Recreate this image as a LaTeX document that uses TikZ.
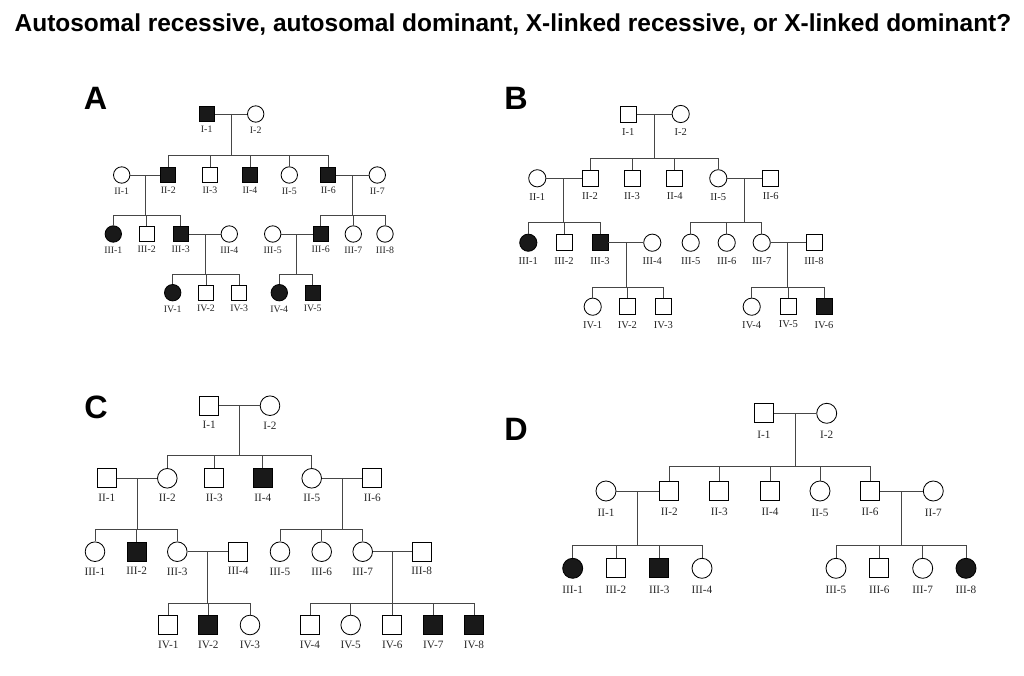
\documentclass[tikz,border=0pt]{standalone}
\usepackage{fontspec}
\setmainfont{Liberation Serif}
\setsansfont{Liberation Sans}
\usepackage{tikz}
\usetikzlibrary{calc}

\definecolor{pedgray}{RGB}{70,70,70}
\definecolor{affected}{RGB}{25,25,25}

% mating line, descent line and sibship: panel, father, mother, y of sibship, children
\newcommand{\offspring}[5]{%
  \draw[pedline] (#1-#2) -- (#1-#3);
  \coordinate (#1-#2-mid) at ($(#1-#2)!0.5!(#1-#3)$);
  \coordinate (#1-#2-sib) at (#1-#2-mid |- 0,#4);
  \draw[pedline] (#1-#2-mid) -- (#1-#2-sib);
  \foreach \ch in {#5} \draw[pedline] (#1-\ch.north) |- (#1-#2-sib);
}

\begin{document}
\begin{tikzpicture}[x=0.025cm, y=-0.025cm,
    sq/.store in=\sqsz, ci/.store in=\cisz,
    sym/.style={draw=black, line width=0.6pt, inner sep=0pt},
    male/.style={sym, rectangle, minimum size=\sqsz},
    female/.style={sym, circle, minimum size=\cisz},
    affm/.style={male, fill=affected},
    afff/.style={female, fill=affected},
    pedline/.style={draw=pedgray, line width=0.6pt},
    lab/.style={inner sep=1pt, text=black!85},
    tag/.style={font=\fontsize{23}{26}\sffamily\bfseries, anchor=base, inner sep=0pt}]
    \useasboundingbox (0,0) rectangle (1024,676);

    % Question
    \node[font=\fontsize{17.4}{20}\sffamily\bfseries, anchor=base, inner sep=0pt] (title) at (513,32)
        {Autosomal recessive, autosomal dominant, X-linked recessive, or X-linked dominant?};

    % Pedigree A
    \node[tag] (A-tag) at (95.5,110) {A};
    \begin{scope}[sq=0.37cm, ci=0.41cm, label distance=2pt, lab/.append style={font=\fontsize{7}{8}\selectfont}]
    \foreach \n/\x/\s in {I-1/206.7/affm, I-2/255.7/female}
        \node[\s, label={[lab]below:\n}] (A-\n) at (\x,114) {};
    \foreach \n/\x/\s in {II-1/121.7/female, II-2/168.3/affm, II-3/210/male, II-4/250/affm,
                          II-5/289.3/female, II-6/328.3/affm, II-7/377.3/female}
        \node[\s, label={[lab]below:\n}] (A-\n) at (\x,175) {};
    \foreach \n/\x/\s in {III-1/113.3/afff, III-2/146.7/male, III-3/180.7/affm, III-4/229.3/female,
                          III-5/272.7/female, III-6/320.7/affm, III-7/353.3/female, III-8/385/female}
        \node[\s, label={[lab]below:\n}] (A-\n) at (\x,234) {};
    \foreach \n/\x/\s in {IV-1/172.7/afff, IV-2/206/male, IV-3/239.3/male, IV-4/279.3/afff, IV-5/312.7/affm}
        \node[\s, label={[lab]below:\n}] (A-\n) at (\x,292.7) {};
    \offspring{A}{I-1}{I-2}{155}{II-2,II-3,II-4,II-5,II-6}
    \offspring{A}{II-1}{II-2}{215}{III-1,III-2,III-3}
    \offspring{A}{II-6}{II-7}{215}{III-6,III-7,III-8}
    \offspring{A}{III-3}{III-4}{274}{IV-1,IV-2,IV-3}
    \offspring{A}{III-5}{III-6}{274}{IV-4,IV-5}
    \end{scope}

    % Pedigree B
    \node[tag] (B-tag) at (516,110) {B};
    \begin{scope}[sq=0.4cm, ci=0.43cm, label distance=3pt, lab/.append style={font=\fontsize{7.5}{8}\selectfont}]
    \foreach \n/\x/\s in {I-1/628.3/male, I-2/680.7/female}
        \node[\s, label={[lab]below:\n}] (B-\n) at (\x,114) {};
    \foreach \n/\x/\s in {II-1/537.3/female, II-2/590/male, II-3/632/male, II-4/674.7/male,
                          II-5/718.3/female, II-6/770.7/male}
        \node[\s, label={[lab]below:\n}] (B-\n) at (\x,178.3) {};
    \foreach \n/\x/\s in {III-1/528.3/afff, III-2/564/male, III-3/600/affm, III-4/652.3/female,
                          III-5/690.7/female, III-6/726.7/female, III-7/761.7/female, III-8/814/male}
        \node[\s, label={[lab]below:\n}] (B-\n) at (\x,242.7) {};
    \foreach \n/\x/\s in {IV-1/592.7/female, IV-2/627.3/male, IV-3/663.3/male,
                          IV-4/751.7/female, IV-5/788.3/male, IV-6/824/affm}
        \node[\s, label={[lab]below:\n}] (B-\n) at (\x,306.7) {};
    \offspring{B}{I-1}{I-2}{158.3}{II-2,II-3,II-4,II-5}
    \offspring{B}{II-1}{II-2}{222.7}{III-1,III-2,III-3}
    \offspring{B}{II-5}{II-6}{222.7}{III-5,III-6,III-7}
    \offspring{B}{III-3}{III-4}{287.3}{IV-1,IV-2,IV-3}
    \offspring{B}{III-7}{III-8}{287.3}{IV-4,IV-5,IV-6}
    \end{scope}

    % Pedigree C
    \node[tag] (C-tag) at (96,418) {C};
    \begin{scope}[sq=0.47cm, ci=0.49cm, label distance=3pt, lab/.append style={font=\fontsize{8}{9}\selectfont}]
    \foreach \n/\x/\s in {I-1/209.3/male, I-2/270/female}
        \node[\s, label={[lab]below:\n}] (C-\n) at (\x,405.7) {};
    \foreach \n/\x/\s in {II-1/106.7/male, II-2/167.3/female, II-3/214.3/male, II-4/262.7/affm,
                          II-5/311.7/female, II-6/372.3/male}
        \node[\s, label={[lab]below:\n}] (C-\n) at (\x,478.3) {};
    \foreach \n/\x/\s in {III-1/95/female, III-2/136.7/affm, III-3/177.3/female, III-4/238.3/male,
                          III-5/280/female, III-6/321.7/female, III-7/362.7/female, III-8/421.7/male}
        \node[\s, label={[lab]below:\n}] (C-\n) at (\x,551.7) {};
    \foreach \n/\x/\s in {IV-1/168.3/male, IV-2/208.3/affm, IV-3/250/female, IV-4/310/male,
                          IV-5/350.7/female, IV-6/392.3/male, IV-7/433.3/affm, IV-8/474/affm}
        \node[\s, label={[lab]below:\n}] (C-\n) at (\x,625) {};
    \offspring{C}{I-1}{I-2}{455.7}{II-2,II-3,II-4,II-5}
    \offspring{C}{II-1}{II-2}{529.3}{III-1,III-2,III-3}
    \offspring{C}{II-5}{II-6}{529.3}{III-5,III-6,III-7}
    \offspring{C}{III-3}{III-4}{603.3}{IV-1,IV-2,IV-3}
    \offspring{C}{III-7}{III-8}{603.3}{IV-4,IV-5,IV-6,IV-7,IV-8}
    \end{scope}

    % Pedigree D
    \node[tag] (D-tag) at (516,440) {D};
    \begin{scope}[sq=0.48cm, ci=0.5cm, label distance=4pt, lab/.append style={font=\fontsize{8}{9}\selectfont}]
    \foreach \n/\x/\s in {I-1/764/male, I-2/826.7/female}
        \node[\s, label={[lab]below:\n}] (D-\n) at (\x,413.3) {};
    \foreach \n/\x/\s in {II-1/606/female, II-2/669.3/male, II-3/719.3/male, II-4/770/male,
                          II-5/820/female, II-6/870/male, II-7/933.3/female}
        \node[\s, label={[lab]below:\n}] (D-\n) at (\x,491) {};
    \foreach \n/\x/\s in {III-1/572.7/afff, III-2/616/male, III-3/659.3/affm, III-4/702/female,
                          III-5/836/female, III-6/879.3/male, III-7/922.7/female, III-8/966/afff}
        \node[\s, label={[lab]below:\n}] (D-\n) at (\x,568.3) {};
    \offspring{D}{I-1}{I-2}{466.7}{II-2,II-3,II-4,II-5,II-6}
    \offspring{D}{II-1}{II-2}{545}{III-1,III-2,III-3,III-4}
    \offspring{D}{II-6}{II-7}{545}{III-5,III-6,III-7,III-8}
    \end{scope}
\end{tikzpicture}
\end{document}
